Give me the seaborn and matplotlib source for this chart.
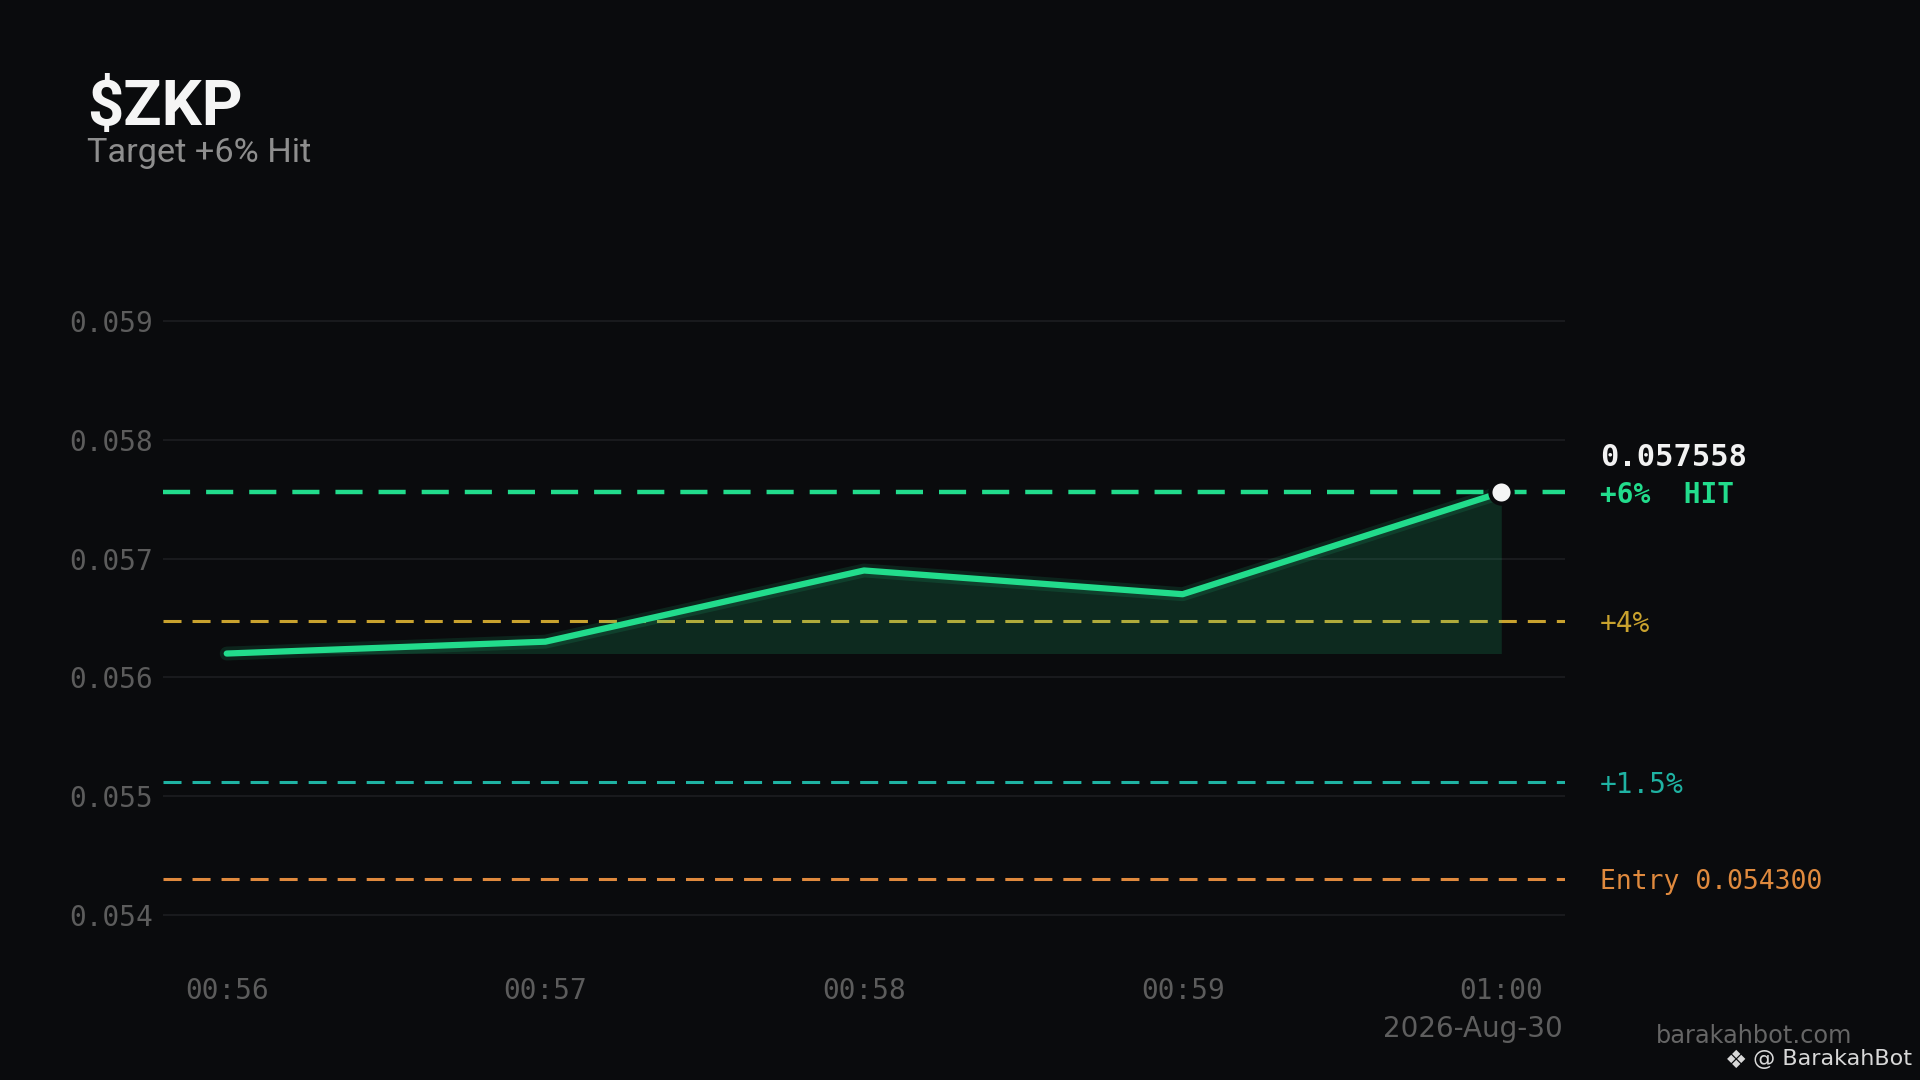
import matplotlib
matplotlib.use("Agg")
import pandas as pd
import matplotlib.pyplot as plt
import matplotlib.transforms as mtransforms
import seaborn as sns

# dados do grafico
symbol = "$ZKP"
subtitle = "Target +6% Hit"
times = ["00:56", "00:57", "00:58", "00:59", "01:00"]
prices = [0.05620, 0.05630, 0.05690, 0.05670, 0.057558]
entry = 0.054300
level_pcts = [1.5, 4, 6]
level_names = ["+1.5%", "+4%", "+6%  HIT"]
y_ticks = [0.054, 0.055, 0.056, 0.057, 0.058, 0.059]
date_label = "2026-Aug-30"

# cores
bg = "#0a0b0d"
green = "#22dc8c"
level_colors = ["#1fb3a3", "#c9a22e", green]
entry_color = "#e08a3e"
grid_color = "#1b1c1f"
tick_color = "#5c5c5c"

mono = "DejaVu Sans Mono"

sns.set_theme(style="dark")
plt.rcParams["font.family"] = ["DejaVu Sans"]

df = pd.DataFrame({"t": range(len(times)), "price": prices})

fig = plt.figure(figsize=(19.2, 10.8), dpi=100, facecolor=bg)
ax = fig.add_axes([163 / 1920, 1 - 949 / 1080, 1402 / 1920, 655 / 1080])
ax.set_facecolor(bg)

# grade horizontal
for v in y_ticks:
    ax.axhline(v, color=grid_color, lw=1.3, zorder=0)

# linhas de nivel
ax.axhline(entry, color=entry_color, lw=2.2, dashes=(5.9, 3.6), zorder=1)
for pct, col in zip(level_pcts, level_colors):
    lvl = entry * (1 + pct / 100)
    if pct == level_pcts[-1]:
        ax.axhline(lvl, color=col, lw=3.2, dashes=(6.1, 3.6), zorder=1)
    else:
        ax.axhline(lvl, color=col, lw=2.2, dashes=(5.9, 3.6), zorder=1)

# area preenchida
ax.fill_between(df["t"], df["price"], prices[0], color=green, alpha=0.15, lw=0, zorder=2)

# linha principal com brilho
sns.lineplot(data=df, x="t", y="price", ax=ax, color=green, lw=10, alpha=0.12,
             zorder=3, legend=False)
sns.lineplot(data=df, x="t", y="price", ax=ax, color=green, lw=4.5,
             solid_capstyle="round", zorder=4, legend=False)
ax.plot(df["t"].iloc[-1], prices[-1], "o", ms=16, mfc="#f5f5f5", mec=bg, mew=3, zorder=6)

ax.set_xlim(-0.2, len(times) - 1 + 0.2)
ax.set_ylim(0.05371, 0.05923)
ax.set_xticks(range(len(times)))
ax.set_xticklabels(times)
ax.set_yticks(y_ticks)
ax.set_yticklabels([f"{v:.3f}" for v in y_ticks])
ax.tick_params(axis="both", length=0, colors=tick_color, labelsize=20)
ax.tick_params(axis="y", pad=7)
ax.tick_params(axis="x", pad=20)
for lab in ax.get_xticklabels() + ax.get_yticklabels():
    lab.set_fontfamily(mono)
ax.set_xlabel("")
ax.set_ylabel("")
ax.grid(False)
for s in ax.spines.values():
    s.set_visible(False)

# rotulos a direita
trans = mtransforms.blended_transform_factory(ax.transAxes, ax.transData)
lx = (1600 - 163) / 1402
ax.text(lx, entry, f"Entry {entry:.6f}", transform=trans, color=entry_color,
        fontsize=19, family=mono, va="center_baseline", ha="left", clip_on=False)
for pct, name, col in zip(level_pcts, level_names, level_colors):
    lvl = entry * (1 + pct / 100)
    bold = pct == level_pcts[-1]
    ax.text(lx, lvl, name, transform=trans, color=col, fontsize=20, family=mono,
            va="center_baseline", ha="left", weight="bold" if bold else "normal",
            clip_on=False)
ax.annotate(f"{prices[-1]:.6f}", xy=(lx, prices[-1]), xycoords=trans,
            xytext=(0, 27), textcoords="offset points", color="#f2f2f2",
            fontsize=22, family=mono, weight="bold", va="center_baseline", ha="left",
            annotation_clip=False)

# titulos
fig.text(87 / 1920, 1 - 125 / 1080, symbol, color="#f5f5f5", fontsize=45.5,
         family="Roboto", weight="bold", va="baseline", ha="left")
fig.text(87 / 1920, 1 - 162 / 1080, subtitle, color="#8e8e8e", fontsize=24.7,
         family="Roboto", va="baseline", ha="left")

# rodape
fig.text(1563 / 1920, 1 - 1037 / 1080, date_label, color="#5e5e5e", fontsize=20,
         va="baseline", ha="right")
fig.text(1852 / 1920, 1 - 1043 / 1080, "barakahbot.com", color="#666666", fontsize=17.3,
         va="baseline", ha="right")
fig.text(1912 / 1920, 1 - 1065 / 1080, "@ BarakahBot", color="#d8d8d8", fontsize=16,
         va="baseline", ha="right")
fig.text(1736 / 1920, 1 - 1061 / 1080, "\u2756", color="#d8d8d8", fontsize=18,
         va="center", ha="center")

fig.savefig("out.png", dpi=100, facecolor=bg)
